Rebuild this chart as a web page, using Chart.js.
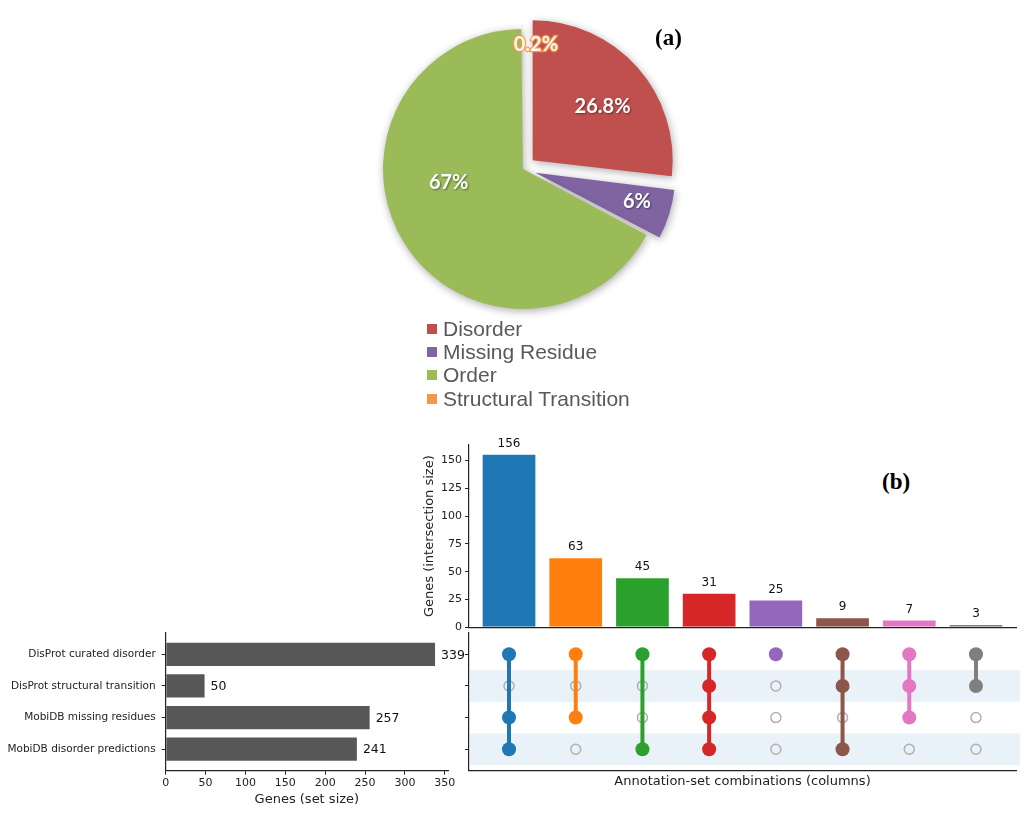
<!DOCTYPE html>
<html><head><meta charset="utf-8">
<script src="https://cdn.jsdelivr.net/npm/chart.js@4.4.1/dist/chart.umd.min.js"></script>
<style>
html,body{margin:0;padding:0;background:#fff;width:1025px;height:814px;overflow:hidden;position:relative;}
canvas{position:absolute;display:block;}
#legend{position:absolute;left:427px;top:317px;font-family:"Liberation Sans",Arial,sans-serif;font-size:21px;color:#595959;}
.li{display:flex;align-items:center;height:23.3px;white-space:nowrap;}
.sw{width:10px;height:10px;margin-right:6px;flex:none;}
.panel{position:absolute;font-family:"Liberation Serif",serif;font-weight:bold;font-size:23px;color:#000;line-height:1;}
</style></head><body>
<canvas id="pie" width="338" height="338" style="left:354px;top:0px;"></canvas>
<div id="legend"></div>
<div class="panel" style="left:655px;top:26px;">(a)</div>
<div class="panel" style="left:882px;top:470px;">(b)</div>
<canvas id="top" width="615" height="208" style="left:410px;top:430px;"></canvas>
<canvas id="left" width="470" height="196" style="left:0px;top:618px;"></canvas>
<canvas id="matrix" width="565" height="194" style="left:460px;top:620px;"></canvas>
<script>
// ---------- data ----------
const pieLabels = ['Disorder', 'Missing Residue', 'Order', 'Structural Transition'];
const pieValues = [26.8, 6, 67, 0.2];
const pieColors = ['#c0504d', '#8064a2', '#9bbb59', '#f79646'];

const setNames = ['DisProt curated disorder', 'DisProt structural transition', 'MobiDB missing residues', 'MobiDB disorder predictions'];
const setSizes = [339, 50, 257, 241];

const intersectionSizes = [156, 63, 45, 31, 25, 9, 7, 3];
const intersectionMembers = [[0, 2, 3], [0, 2], [0, 3], [0, 1, 2, 3], [0], [0, 1, 3], [0, 1, 2], [0, 1]];
const comboColors = ['#1f77b4', '#ff7f0e', '#2ca02c', '#d62728', '#9467bd', '#8c564b', '#e377c2', '#7f7f7f'];

const intersectionTicks = [0, 25, 50, 75, 100, 125, 150];
const setSizeTicks = [0, 50, 100, 150, 200, 250, 300, 350];

// ---------- styles / placement ----------
const pieOffsets = [52, 52, 0, 20];
const pieLabelPos = [{deg: 52.4, r: 0.63}, {deg: 106, r: 0.755}, {deg: 259.3, r: 0.54}, {deg: 6.2, r: 0.855}];

Chart.defaults.font.family = 'DejaVu Sans';
Chart.defaults.color = '#000';
Chart.defaults.animation = false;
Chart.defaults.events = [];
Chart.defaults.plugins.legend.display = false;
Chart.defaults.plugins.tooltip.enabled = false;

// legend (HTML)
const lg = document.getElementById('legend');
pieLabels.forEach((l, i) => {
  const d = document.createElement('div'); d.className = 'li';
  const s = document.createElement('span'); s.className = 'sw'; s.style.background = pieColors[i];
  const t = document.createElement('span'); t.textContent = l;
  d.appendChild(s); d.appendChild(t); lg.appendChild(d);
});

// ---------- pie ----------
const pieRadiusFix = {
  id: 'pieRadiusFix',
  afterDatasetsUpdate(chart) {
    chart.getDatasetMeta(0).data.forEach(arc => {
      const off = (arc.options.offset || 0) / 4;
      const circ = arc.endAngle - arc.startAngle;
      arc.outerRadius -= off * (1 - Math.sin(Math.min(Math.PI, circ)));
    });
  }
};
const pieShadow = {
  id: 'pieShadow',
  beforeDatasetsDraw(chart) {
    const c = chart.ctx; c.save();
    c.shadowColor = 'rgba(0,0,0,0.33)'; c.shadowBlur = 8; c.shadowOffsetX = 1; c.shadowOffsetY = 2;
  },
  afterDatasetsDraw(chart) { chart.ctx.restore(); }
};
const pieLabelsPlugin = {
  id: 'pieLabels',
  afterDatasetsDraw(chart) {
    const ctx = chart.ctx;
    const meta = chart.getDatasetMeta(0);
    meta.data.forEach((arc, i) => {
      const p = arc.getProps(['x', 'y', 'startAngle', 'endAngle'], true);
      const R = 140;
      const off = (arc.options.offset || 0) / 4;
      const half = (p.startAngle + p.endAngle) / 2;
      const cx = p.x + Math.cos(half) * off, cy = p.y + Math.sin(half) * off;
      const a = (pieLabelPos[i].deg - 90) * Math.PI / 180;
      const x = cx + Math.cos(a) * R * pieLabelPos[i].r;
      const y = cy + Math.sin(a) * R * pieLabelPos[i].r;
      const txt = pieValues[i] + '%';
      ctx.save();
      ctx.font = 'bold 20px Lato';
      ctx.textAlign = 'center'; ctx.textBaseline = 'middle';
      if (i === 3) {
        ctx.lineWidth = 2.5; ctx.strokeStyle = 'rgba(247,150,70,0.9)';
        ctx.strokeText(txt, x, y);
        ctx.fillStyle = '#fff8ee';
        ctx.fillText(txt, x, y);
      } else {
        ctx.shadowColor = 'rgba(0,0,0,0.45)'; ctx.shadowBlur = 2; ctx.shadowOffsetX = 1; ctx.shadowOffsetY = 1;
        ctx.fillStyle = '#ffffff';
        ctx.fillText(txt, x, y);
      }
      ctx.restore();
    });
  }
};
new Chart(document.getElementById('pie'), {
  type: 'pie',
  data: {labels: pieLabels, datasets: [{data: pieValues, backgroundColor: pieColors, borderWidth: 0, offset: pieOffsets, hoverOffset: 0, radius: 140}]},
  options: {responsive: false, layout: {padding: 0}},
  plugins: [pieRadiusFix, pieShadow, pieLabelsPlugin]
});

// ---------- value labels for bars ----------
const barValueLabels = {
  id: 'barValueLabels',
  afterDatasetsDraw(chart, args, opts) {
    const ctx = chart.ctx;
    const meta = chart.getDatasetMeta(0);
    const vals = chart.data.datasets[0].data;
    ctx.save();
    ctx.font = opts.size + 'px "DejaVu Sans"';
    ctx.fillStyle = '#111';
    meta.data.forEach((bar, i) => {
      const v = opts.horizontal ? vals[i].x : vals[i].y;
      if (opts.horizontal) {
        ctx.textAlign = 'left'; ctx.textBaseline = 'middle';
        ctx.fillText(String(v), bar.x + 5, bar.y + 1);
      } else {
        ctx.textAlign = 'center'; ctx.textBaseline = 'middle';
        ctx.fillText(String(v), bar.x, bar.y - 10);
      }
    });
    ctx.restore();
  }
};

// ---------- top intersection bars ----------
new Chart(document.getElementById('top'), {
  type: 'bar',
  data: {datasets: [{
    data: intersectionSizes.map((v, i) => ({x: i, y: v})),
    backgroundColor: comboColors, borderColor: 'rgba(255,255,255,0.6)', borderWidth: 1,
    categoryPercentage: 1, barPercentage: 0.82
  }]},
  options: {
    responsive: false,
    layout: {padding: {top: 15, right: 9, bottom: 0, left: 0}},
    plugins: {barValueLabels: {size: 12, horizontal: false}},
    scales: {
      x: {type: 'linear', offset: false, min: -0.6, max: 7.6,
        afterBuildTicks: s => { s.ticks = intersectionSizes.map((_, i) => ({value: i})); },
        grid: {display: false}, border: {display: true, color: '#222', width: 1.2}, ticks: {display: false},
        afterFit: s => { s.height = 10.7; }},
      y: {type: 'linear', min: 0, max: 163.8,
        afterBuildTicks: s => { s.ticks = intersectionTicks.map(v => ({value: v})); },
        grid: {drawOnChartArea: false, drawTicks: true, tickLength: 4, color: '#222'},
        border: {display: true, color: '#222', width: 1.2},
        ticks: {font: {size: 11}, color: '#222', padding: 3},
        title: {display: true, text: 'Genes (intersection size)', font: {size: 13}, color: '#222', padding: {top: 12, bottom: 0}},
        afterFit: s => { s.width = 59; }}
    }
  },
  plugins: [barValueLabels]
});

// ---------- left set-size bars ----------
new Chart(document.getElementById('left'), {
  type: 'bar',
  data: {datasets: [{
    data: setSizes.map((v, i) => ({x: v, y: i})),
    backgroundColor: '#575757', borderColor: 'rgba(255,255,255,0.5)', borderWidth: 1,
    categoryPercentage: 1, barPercentage: 0.8
  }]},
  options: {
    indexAxis: 'y', responsive: false,
    layout: {padding: {top: 14.8, right: 22, bottom: 0, left: 0}},
    plugins: {barValueLabels: {size: 12.5, horizontal: true}},
    scales: {
      y: {type: 'linear', offset: false, reverse: true, min: -0.68, max: 3.68,
        afterBuildTicks: s => { s.ticks = setNames.map((_, i) => ({value: i})); },
        ticks: {callback: v => setNames[v], font: {size: 10.5}, color: '#222', padding: 6, autoSkip: false},
        grid: {drawOnChartArea: false, drawTicks: true, tickLength: 4, color: '#222', offset: false},
        border: {display: true, color: '#222', width: 1.2},
        afterFit: s => { s.width = 165.7; }},
      x: {type: 'linear', min: 0, max: 354,
        afterBuildTicks: s => { s.ticks = setSizeTicks.map(v => ({value: v})); },
        ticks: {font: {size: 11}, color: '#222', padding: 2, maxRotation: 0, autoSkip: false},
        grid: {drawOnChartArea: false, drawTicks: true, tickLength: 4, color: '#222'},
        border: {display: true, color: '#222', width: 1.2},
        title: {display: true, text: 'Genes (set size)', font: {size: 13}, color: '#222', padding: {top: 0, bottom: 6.9}},
        afterFit: s => { s.height = 43.3; }}
    }
  },
  plugins: [barValueLabels]
});

// ---------- membership matrix ----------
const bands = {
  id: 'bands',
  beforeDatasetsDraw(chart) {
    const {ctx, chartArea} = chart; const ys = chart.scales.y;
    ctx.save(); ctx.fillStyle = 'rgb(233,241,249)';
    setNames.forEach((_, r) => {
      if (r % 2 === 1) {
        const y1 = ys.getPixelForValue(r - 0.5), y2 = ys.getPixelForValue(r + 0.5);
        ctx.fillRect(chartArea.left + 1, Math.min(y1, y2), chartArea.right - chartArea.left + 3, Math.abs(y2 - y1));
      }
    });
    ctx.restore();
  }
};
const emptyCells = [];
intersectionMembers.forEach((m, i) => {
  setNames.forEach((_, r) => { if (!m.includes(r)) emptyCells.push({x: i, y: r}); });
});
new Chart(document.getElementById('matrix'), {
  type: 'scatter',
  data: {datasets: [
    {data: emptyCells, showLine: false, pointRadius: 5, pointBackgroundColor: 'rgba(0,0,0,0)', pointBorderColor: '#b0b0b0', pointBorderWidth: 1.5, order: 10},
    ...intersectionMembers.map((m, i) => ({
      data: m.map(r => ({x: i, y: r})), showLine: true, borderColor: comboColors[i], borderWidth: 4,
      pointRadius: 7, pointBackgroundColor: comboColors[i], pointBorderColor: comboColors[i], pointBorderWidth: 0, order: 1
    }))
  ]},
  options: {
    responsive: false,
    layout: {padding: {top: 12.8, right: 9, bottom: 0, left: 0}},
    scales: {
      x: {type: 'linear', min: -0.6, max: 7.6, grid: {display: false}, ticks: {display: false},
        border: {display: true, color: '#222', width: 1.2},
        title: {display: true, text: 'Annotation-set combinations (columns)', font: {size: 13}, color: '#222', padding: {top: 0, bottom: 24.5}},
        afterFit: s => { s.height = 43.3; }},
      y: {type: 'linear', reverse: true, min: -0.68, max: 3.68,
        afterBuildTicks: s => { s.ticks = setNames.map((_, i) => ({value: i})); },
        ticks: {display: false},
        grid: {drawOnChartArea: false, drawTicks: true, tickLength: 4, color: '#222'},
        border: {display: true, color: '#222', width: 1.2},
        afterFit: s => { s.width = 9; }}
    }
  },
  plugins: [bands]
});
</script>
</body></html>
